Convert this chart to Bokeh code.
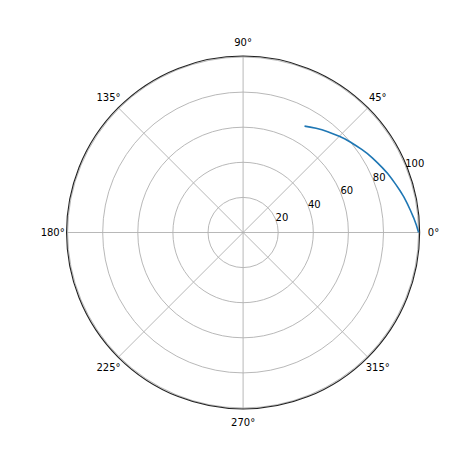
import numpy as np
from bokeh.plotting import figure
from bokeh.models import ColumnDataSource
from bokeh.core.properties import value
from bokeh.embed import file_html
from bokeh.resources import INLINE

# ---- data ----
theta_deg = [0, 2.5, 5, 7.5, 10, 12.5, 15, 17.5, 20, 22.5, 25, 27.5, 30,
             32.5, 35, 37.5, 40, 42.5, 45, 47.5, 50, 52.5, 55, 57.5, 60]
r_vals = [100, 98.8, 97.5, 96.2, 95, 93.8, 92.5, 91.2, 90, 88.8, 87.5, 86.2, 85,
          83.8, 82.5, 81.2, 80, 78.8, 77.5, 76.2, 75, 73.8, 72.5, 71.2, 70]

r_ticks = [20, 40, 60, 80, 100]
r_tick_labels = ["20", "40", "60", "80", "100"]
theta_ticks = [0, 45, 90, 135, 180, 225, 270, 315]
theta_tick_labels = ["0°", "45°", "90°", "135°", "180°", "225°", "270°", "315°"]
r_max = 100.6
r_label_angle = 22.5
theta_label_r = 108.5

# ---- layout ----
W, H = 458, 444
S = 1.755            # px per data unit
cx, cy = 242.6, 232.0  # centre, in figure px from left / top

p = figure(width=W, height=H, output_backend="svg", toolbar_location=None,
           x_range=(-cx / S, (W - cx) / S), y_range=(-(H - cy) / S, cy / S),
           min_border=0, min_border_left=0, min_border_right=0,
           min_border_top=0, min_border_bottom=0)
p.axis.visible = False
p.xgrid.visible = False
p.ygrid.visible = False
p.outline_line_color = None
p.background_fill_color = "white"
p.border_fill_color = "white"

grid_col = "#b0b0b0"

# radial grid circles
p.circle(x=[0] * len(r_ticks), y=[0] * len(r_ticks), radius=r_ticks,
         fill_color=None, line_color=grid_col, line_width=0.9)

# angular spokes
th = np.radians(theta_ticks)
p.segment(x0=[0] * len(th), y0=[0] * len(th),
          x1=list(r_max * np.cos(th)), y1=list(r_max * np.sin(th)),
          line_color=grid_col, line_width=0.9)

# outer spine
p.circle(x=[0], y=[0], radius=[r_max], fill_color=None,
         line_color="#222222", line_width=1.1)

# data curve
t = np.radians(theta_deg)
rv = np.array(r_vals)
p.line(x=list(rv * np.cos(t)), y=list(rv * np.sin(t)),
       line_color="#1f77b4", line_width=1.6)

# radial tick labels
a = np.radians(r_label_angle)
rt = np.array(r_ticks, dtype=float)
src_r = ColumnDataSource(dict(x=list(rt * np.cos(a)), y=list(rt * np.sin(a)),
                              t=r_tick_labels))
p.text(x="x", y="y", text="t", source=src_r, text_align="left",
       text_baseline="alphabetic", y_offset=-2,
       text_font=value("DejaVu Sans"), text_font_size="10px",
       text_color="black")

# angular tick labels
src_t = ColumnDataSource(dict(x=list(theta_label_r * np.cos(th)),
                              y=list(theta_label_r * np.sin(th)),
                              t=theta_tick_labels))
p.text(x="x", y="y", text="t", source=src_t, text_align="center",
       text_baseline="middle",
       text_font=value("DejaVu Sans"), text_font_size="10px",
       text_color="black")

open("out.html", "w").write(file_html(p, INLINE))
